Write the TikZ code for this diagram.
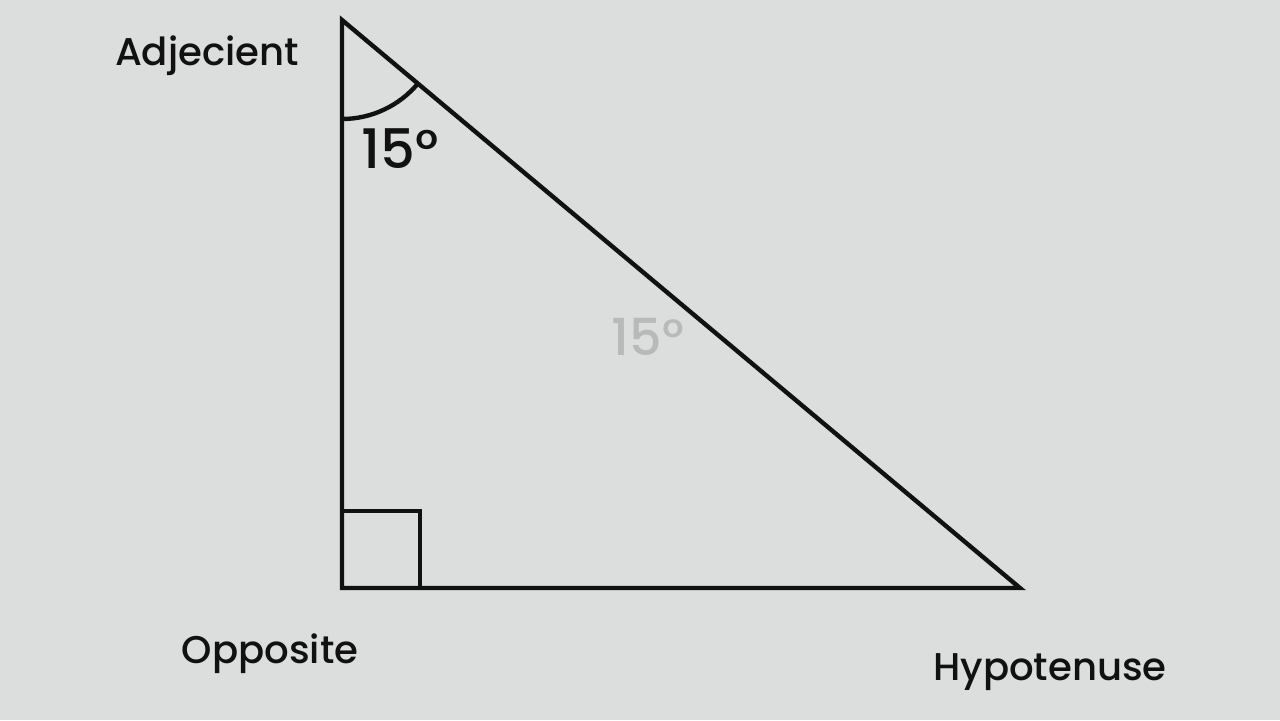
\documentclass[tikz,border=0pt]{standalone}
\usepackage{fontspec}
\setmainfont{Poppins}[UprightFont=* Medium]
\usetikzlibrary{calc}
\definecolor{paper}{HTML}{DCDDDD}
\definecolor{ink}{HTML}{111111}

\begin{document}
\begin{tikzpicture}[x=0.02cm,y=-0.02cm]
		\tikzstyle{side}=[draw=ink,line width=2.5pt,line join=miter]
		\tikzstyle{label}=[text=ink,font=\fontsize{22}{26}\selectfont]
		\tikzstyle{angle}=[text=ink,font=\fontsize{31}{34}\selectfont]

		% background
		\fill[paper] (0,0) rectangle (1280,720);
		\useasboundingbox (0,0) rectangle (1280,720);

		% corners
		\coordinate (top) at (342,20);
		\coordinate (right) at (342,588);
		\coordinate (far) at (1020,588);

		% triangle
		\draw[side] (top) -- (right) -- (far) -- cycle;
		\draw[side] ($(right)+(0,-77)$) -| ($(right)+(78,0)$);
		\draw[side] ($(top)+(0,99)$) arc[start angle=90,end angle=40,radius=99];

		% labels
		\node[label] (adj) at (207,56) {Adjecient};
		\node[angle] (ang1) at (400,149) {15°};
		\node[angle,text=gray!55,font=\fontsize{29}{32}\selectfont] (ang2) at (648,337) {15°};
		\node[label] (opp) at (270,654) {Opposite};
		\node[label] (hyp) at (1050,672) {Hypotenuse};
	\end{tikzpicture}
\end{document}
